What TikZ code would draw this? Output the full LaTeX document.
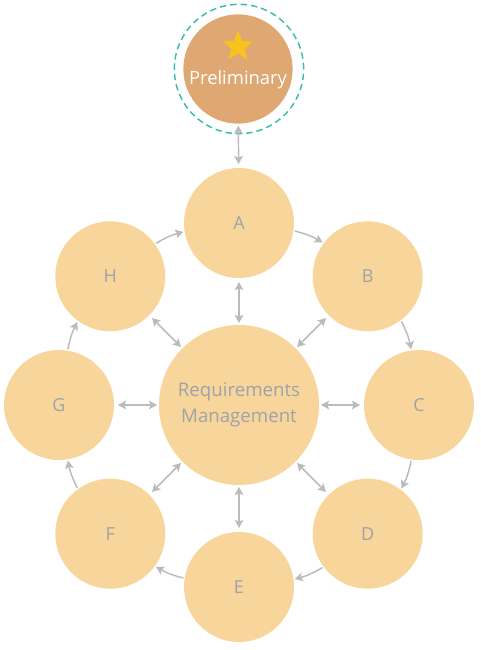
\documentclass[tikz,border=0pt]{standalone}
\usepackage{fontspec}
\setmainfont{Open Sans}
\usetikzlibrary{arrows.meta,shapes.geometric}
\definecolor{phasefill}{HTML}{F7D59B}
\definecolor{prelimfill}{HTML}{DFA872}
\definecolor{labelgray}{HTML}{9FA3A8}
\definecolor{linkgray}{HTML}{BBBBBB}
\definecolor{ringteal}{HTML}{3BBCB0}
\definecolor{stargold}{HTML}{F8C31C}
\begin{document}
\begin{tikzpicture}[x=0.75pt,y=0.75pt,
    >={Stealth[length=6pt,width=6.5pt,inset=1.2pt]},
    phase/.style={circle,fill=phasefill,text=labelgray,minimum size=82.5pt,
      inner sep=0pt,outer sep=0pt,font=\fontsize{13.5}{16}\selectfont},
    hub/.style={phase,minimum size=120pt,align=center,
      font=\fontsize{14}{19.2}\selectfont},
    link/.style={draw=linkgray,line width=1.1pt}]
  \useasboundingbox (-239,-245) rectangle (242,405);
  % preliminary phase
  \node[circle,draw=ringteal,dashed,dash pattern=on 4.8pt off 3pt,line width=1.1pt,
    minimum size=97pt,inner sep=0pt] (Pring) at (0,336) {};
  \node[circle,fill=prelimfill,minimum size=82pt,inner sep=0pt,outer sep=0pt] (P) at (-1,336) {};
  \node[star,star points=5,star point ratio=2.4,fill=stargold,minimum size=24.5pt,
    inner sep=0pt] (Pstar) at (-1,358.5) {};
  \node[anchor=base,text=white,font=\fontsize{13.8}{16}\selectfont] (Ptext) at (-1,320) {Preliminary};
  % hub and phases
  \draw
    (0,0) node[hub] (M) {Requirements\\Management}
    (90:182) node[phase] (A) {A}
    (45:182) node[phase] (B) {B}
    (0:180) node[phase] (C) {C}
    (-45:182) node[phase] (D) {D}
    (-90:182) node[phase] (E) {E}
    (-135:182) node[phase] (F) {F}
    (180:180) node[phase] (G) {G}
    (135:182) node[phase] (H) {H};
  \begin{scope}[link,->,shorten >=1pt,shorten <=1pt]
    \draw (A.-8.7) to[bend left=8] (B.143.7);
    \draw (B.-53.7) to[bend left=8] (C.98.7);
    \draw (C.-98.7) to[bend left=8] (D.53.7);
    \draw (D.-143.7) to[bend left=8] (E.8.7);
    \draw (E.171.3) to[bend left=8] (F.-36.3);
    \draw (F.126.3) to[bend left=8] (G.-81.3);
    \draw (G.81.3) to[bend left=8] (H.-126.3);
    \draw (H.36.3) to[bend left=8] (A.-171.3);
  \end{scope}
  \begin{scope}[link,<->,shorten >=3pt,shorten <=1.5pt]
    \draw (M) to (A);
    \draw (M) to (B);
    \draw (M) to (C);
    \draw (M) to (D);
    \draw (M) to (E);
    \draw (M) to (F);
    \draw (M) to (G);
    \draw (M) to (H);
    \draw (P) to (A);
  \end{scope}
\end{tikzpicture}
\end{document}
